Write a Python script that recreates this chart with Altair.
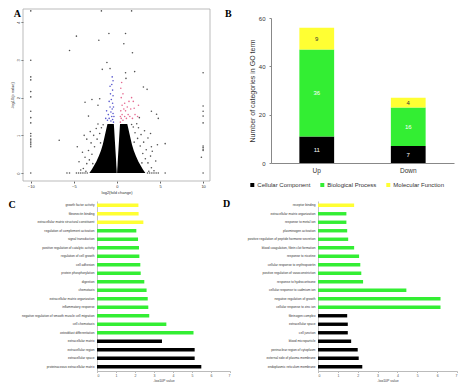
import altair as alt
import pandas as pd

# ---------------- Panel A: volcano plot ----------------
# dense core of non-significant genes (outline of the black V)
core_y = [0.0, 0.1, 0.2, 0.3, 0.45, 0.6, 0.75, 0.9, 1.05, 1.2, 1.3]
core_l_out = [-3.2, -2.9, -2.65, -2.4, -2.1, -1.85, -1.65, -1.5, -1.35, -1.2, -1.1]
core_l_in = [-0.02, -0.04, -0.07, -0.09, -0.13, -0.17, -0.21, -0.25, -0.29, -0.33, -0.36]
core_r_in = [0.02, 0.04, 0.07, 0.09, 0.13, 0.17, 0.21, 0.25, 0.29, 0.33, 0.36]
core_r_out = [3.3, 3.0, 2.75, 2.5, 2.2, 1.95, 1.75, 1.6, 1.45, 1.3, 1.2]

# scattered grey/black genes
gray_x = [-3.6, -3.9, -4.2, -3.5, -3.2, -3.7, -2.9, -3.3, -4.0, -2.6, -3.0, -3.5, -2.3, -2.7, -2.0,
          -3.1, -1.8, -2.4, -2.2, -1.6, -4.4, -2.8, -1.9, -4.6, -3.8,
          3.7, 4.0, 4.3, 3.6, 3.3, 3.9, 3.0, 3.4, 4.1, 2.7, 3.1, 3.6, 2.4, 2.8, 2.1,
          3.2, 1.9, 2.5, 2.3, 1.7, 4.5, 2.9, 2.0, 4.7, 3.9,
          -10, -5.8, -5.5, -4.7, -4.45, -4.2, -3.95, -3.7, -3.45, 3.55, 3.8, 4.05, 4.3, 4.55, 4.8, 5.6, 10,
          -1.8, 1.7, -10, -4.7, -0.93, 1.0, -2.1, 0.8, -5.5, 1.8, -1.16, -0.8, -1.7, -10, -10, -10,
          10, 1.0, 2.06, 1.05, -10, -10, 3.07, 3.5, -3.7, -2.9, -2.2, -2.0, -10, -10, -10,
          10, 10, 10, 10, -3.3, 4.8, 4.6, 4.0, 2.6, -10, -10, -10, -10, -10, -10, -10,
          10, 10, 10, 10, 9.8, -6.7, 5.6, 4.0]
gray_y = [0.05, 0.12, 0.08, 0.25, 0.35, 0.42, 0.5, 0.6, 0.55, 0.7, 0.8, 0.9, 0.9, 1.0, 1.05,
          1.1, 1.2, 1.18, 1.3, 1.28, 0.3, 0.25, 0.8, 0.7, 1.0,
          0.05, 0.14, 0.06, 0.27, 0.38, 0.45, 0.52, 0.62, 0.58, 0.72, 0.82, 0.93, 0.92, 1.02, 1.07,
          1.12, 1.22, 1.2, 1.31, 1.29, 0.32, 0.27, 0.82, 0.75, 1.05,
          0, 0, 0, 0, 0, 0, 0, 0, 0, 0, 0, 0, 0, 0, 0, 0, 0,
          4.3, 4.3, 4.3, 3.63, 3.7, 3.7, 3.52, 3.43, 3.25, 3.19, 2.93, 2.77, 2.75, 2.99, 2.55, 2.47,
          2.66, 2.66, 2.69, 2.51, 2.16, 2.02, 2.28, 2.22, 1.88, 1.95, 1.8, 1.97, 1.64, 1.47, 1.33,
          1.78, 1.64, 1.51, 1.33, 1.51, 1.45, 1.56, 1.64, 1.47, 1.05, 0.98, 0.9, 0.85, 0.8, 0.75, 0.7,
          0.72, 0.68, 0.63, 0.6, 0.42, 0.87, 0.78, 0.7]

# significant down-regulated (blue) and up-regulated (red) genes
down_x = [-0.4, -0.5, -0.6, -0.45, -0.7, -0.55, -0.9, -1.1, -0.8, -0.5, -0.65, -0.45, -0.75,
          -0.5, -1.0, -1.3, -0.6, -0.45, -0.55, -0.8, -1.2, -0.4, -0.35, -0.9, -0.7]
down_y = [1.35, 1.42, 1.5, 1.58, 1.62, 1.7, 1.45, 1.4, 1.75, 1.85, 1.95, 2.05, 2.1,
          2.2, 1.55, 1.45, 2.35, 2.45, 2.55, 2.3, 1.65, 1.75, 1.5, 1.9, 1.38]
up_x = [0.4, 0.5, 0.6, 0.45, 0.7, 0.9, 1.1, 1.3, 1.5, 1.8, 2.1, 2.4, 0.8, 1.0, 1.2, 1.6, 2.0,
        0.6, 0.9, 1.4, 0.5, 0.7, 0.45, 0.55, 1.7, 2.5, 0.4, 1.9]
up_y = [1.35, 1.45, 1.55, 1.65, 1.4, 1.5, 1.45, 1.55, 1.5, 1.45, 1.55, 1.5, 1.7, 1.65, 1.75, 1.7, 1.72,
        1.8, 1.85, 1.9, 2.0, 2.1, 2.25, 2.4, 2.0, 1.8, 1.5, 1.9]

a_xticks = [-10, -5, 0, 5, 10]
a_yticks = [0, 1, 2, 3, 4]

# ---------------- Panel B: GO term counts ----------------
b_groups = ["Up", "Down"]
b_categories = ["Cellular Component", "Biological Process", "Molecular Function"]
b_up = [11, 36, 9]
b_down = [7, 16, 4]

# ---------------- Panel C: up-regulated GO terms ----------------
c_terms = ["growth factor activity", "fibronectin binding",
           "extracellular matrix structural constituent",
           "regulation of complement activation", "signal transduction",
           "positive regulation of catalytic activity", "regulation of cell growth",
           "cell adhesion", "protein phosphorylation", "digestion", "chemotaxis",
           "extracellular matrix organization", "inflammatory response",
           "negative regulation of smooth muscle cell migration", "cell chemotaxis",
           "osteoblast differentiation", "extracellular matrix", "extracellular region",
           "extracellular space", "proteinaceous extracellular matrix"]
c_values = [2.18, 2.19, 2.44, 2.07, 2.16, 2.21, 2.23, 2.28, 2.30, 2.49, 2.61, 2.67, 2.70, 2.75,
            3.65, 5.08, 3.42, 5.14, 5.14, 5.49]
c_types = ["MF"] * 3 + ["BP"] * 13 + ["CC"] * 4

# ---------------- Panel D: down-regulated GO terms ----------------
d_terms = ["receptor binding", "extracellular matrix organization", "response to metal ion",
           "plasminogen activation", "positive regulation of peptide hormone secretion",
           "blood coagulation, fibrin clot formation", "response to nicotine",
           "cellular response to erythropoietin", "positive regulation of vasoconstriction",
           "response to hydrocortisone", "cellular response to cadmium ion",
           "negative regulation of growth", "cellular response to zinc ion",
           "fibrinogen complex", "extracellular space", "cell junction", "blood microparticle",
           "perinuclear region of cytoplasm", "external side of plasma membrane",
           "endoplasmic reticulum membrane"]
d_values = [1.82, 1.43, 1.43, 1.47, 1.52, 1.82, 2.07, 2.13, 2.18, 2.27, 4.45, 6.17, 6.17,
            1.47, 1.50, 1.50, 1.67, 2.00, 2.05, 2.23]
d_types = ["MF"] * 1 + ["BP"] * 12 + ["CC"] * 7

go_ticks = [0, 1, 2, 3, 4, 5, 6, 7]

BLACK = "#000000"
GREEN = "#33EE33"
YELLOW = "#FFFF33"
LETTER_FONT = "Liberation Serif"


def letter(t, dx, dy):
    return alt.Chart(pd.DataFrame({"t": [t]})).mark_text(
        font=LETTER_FONT, fontWeight="bold", fontSize=10, align="left", baseline="top",
        color="black"
    ).encode(text="t:N", x=alt.value(dx), y=alt.value(dy))


# ---- A ----
xA = alt.X("x:Q", scale=alt.Scale(domain=[-10.9, 10.8], nice=False, zero=False),
           axis=alt.Axis(values=a_xticks, title="log2(fold change)", labelFontSize=4,
                         titleFontSize=4, titleFontWeight="normal", tickSize=2, labelPadding=1,
                         titlePadding=2, domain=False, grid=False, labelColor="#333",
                         tickColor="#666", titleColor="#333"))
yA = alt.Y("y:Q", scale=alt.Scale(domain=[-0.21, 4.35], nice=False, zero=False),
           axis=alt.Axis(values=a_yticks, title="-log10(p value)", labelAngle=270,
                         labelAlign="center", labelBaseline="bottom", labelFontSize=4,
                         titleFontSize=4, titleFontWeight="normal", tickSize=2, labelPadding=1,
                         titlePadding=2, domain=False, grid=False, labelColor="#333",
                         tickColor="#666", titleColor="#333"))

area_df = pd.DataFrame({
    "y": core_y + core_y,
    "x": core_l_out + core_r_out,
    "x2": core_l_in + core_r_in,
    "side": ["l"] * len(core_y) + ["r"] * len(core_y),
})
pts_df = pd.DataFrame({
    "x": gray_x + down_x + up_x,
    "y": gray_y + down_y + up_y,
    "g": ["n"] * len(gray_x) + ["down"] * len(down_x) + ["up"] * len(up_x),
})

frameA = alt.Chart(pd.DataFrame({"f": [0]})).mark_rect(
    fill="transparent", stroke="#aaaaaa", strokeWidth=0.8
).encode(x=alt.value(0), y=alt.value(0), x2=alt.value("width"), y2=alt.value("height"))

core = alt.Chart(area_df).mark_area(orient="horizontal", color="black").encode(
    y=yA, x=xA, x2="x2:Q", detail="side:N")
pts = alt.Chart(pts_df).mark_circle(size=2.5, opacity=0.85).encode(
    x=xA, y=yA,
    color=alt.Color("g:N", scale=alt.Scale(domain=["n", "down", "up"],
                                           range=["#333333", "#3b3bc4", "#e0507e"]),
                    legend=None))
A = alt.layer(frameA, core, pts, letter("A", -9.3, 0)).properties(width=187, height=172)

# ---- B ----
rows = []
for g, vals in zip(b_groups, [b_up, b_down]):
    cum = 0
    for i, (cat, v) in enumerate(zip(b_categories, vals)):
        rows.append({"group": g, "cat": cat, "value": v, "order": i, "mid": cum + v / 2,
                     "lc": ["#ffffff", "#ffffff", "#333333"][i]})
        cum += v
b_df = pd.DataFrame(rows)

yB_scale = alt.Scale(domain=[0, 60], range=[154, 9], nice=False)
xB = alt.X("group:N", sort=b_groups, scale=alt.Scale(paddingInner=0.62, paddingOuter=0.31),
           axis=alt.Axis(title=None, labelAngle=0, labelFontSize=6.5, labelPadding=4,
                         ticks=False, domainColor="#888", labelColor="#333"))
barsB = alt.Chart(b_df).mark_bar().encode(
    x=xB,
    y=alt.Y("value:Q", stack="zero", scale=yB_scale,
            axis=alt.Axis(values=[0, 10, 20, 30, 40, 50, 60], title="Number of categories in GO term",
                          labelFontSize=6, titleFontSize=7, titleFontWeight="normal", tickSize=2,
                          labelPadding=4, titlePadding=3, grid=False, domainColor="#888",
                          tickColor="#888", labelColor="#333", titleColor="#333")),
    color=alt.Color("cat:N", scale=alt.Scale(domain=b_categories, range=[BLACK, GREEN, YELLOW]),
                    legend=alt.Legend(orient="none", legendX=-21.7, legendY=173,
                                      direction="horizontal", title=None, symbolType="square",
                                      symbolSize=16, symbolStrokeWidth=0, labelFontSize=6,
                                      labelOffset=2, columnPadding=8, labelColor="#333")),
    order=alt.Order("order:Q", sort="ascending"),
)
textB = alt.Chart(b_df).mark_text(fontSize=6).encode(
    x=xB, y=alt.Y("mid:Q", scale=yB_scale), text="value:Q",
    color=alt.Color("lc:N", scale=None))
B = alt.layer(barsB, textB, letter("B", -46, 0)).properties(width=183, height=154)


# ---- C / D ----
def go_panel(terms, values, types, width, x0, t, lx, ly):
    df = pd.DataFrame({"term": terms, "value": values, "type": types})
    bars = alt.Chart(df).mark_bar().encode(
        y=alt.Y("term:N", sort=terms, scale=alt.Scale(paddingInner=0.6, paddingOuter=0.3),
                axis=alt.Axis(title=None, ticks=False, labelFontSize=3.2, labelPadding=3,
                              labelLimit=200, labelColor="#333", domainColor="#aaaaaa",
                              domainWidth=0.7, offset=-x0)),
        x=alt.X("value:Q", scale=alt.Scale(domain=[0, 7], nice=False, range=[x0, width]),
                axis=alt.Axis(values=go_ticks, title="-log10P value", labelFontSize=3.5,
                              titleFontSize=3.5, titleFontWeight="normal", tickSize=1.5,
                              labelPadding=1, titlePadding=1, grid=False, domainColor="#bbbbbb",
                              tickColor="#bbbbbb", labelColor="#555", titleColor="#444")),
        color=alt.Color("type:N", scale=alt.Scale(domain=["CC", "BP", "MF"],
                                                  range=[BLACK, GREEN, YELLOW]), legend=None),
    )
    return alt.layer(bars, letter(t, lx, ly)).properties(width=width, height=170)


C = go_panel(c_terms, c_values, c_types, 207, 74, "C", -14.4, -1)
D = go_panel(d_terms, d_values, d_types, 186, 47, "D", -48, -2.3)

chart = alt.concat(
    A, B, C, D,
    columns=2,
).resolve_scale(
    color="independent", x="independent", y="independent"
).resolve_legend(
    color="independent"
).properties(
    bounds="flush",
    spacing={"row": 20, "column": 41},
    padding=0,
).configure(font="Liberation Sans").configure_view(stroke="transparent")

chart.save("out.html", embed_options={"renderer": "svg", "actions": False})
